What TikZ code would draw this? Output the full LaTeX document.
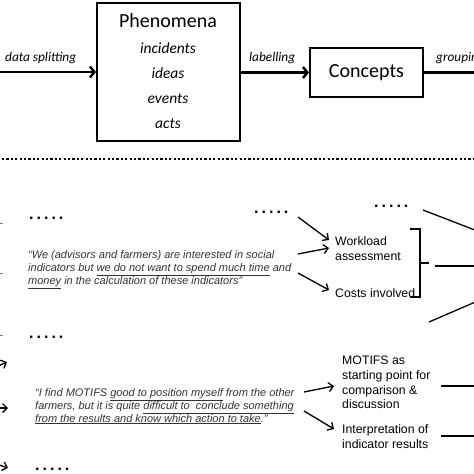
\documentclass[tikz,border=0pt]{standalone}
\usepackage{fontspec}
\setmainfont{Liberation Sans}
\newfontfamily\calfont{Carlito}
\usetikzlibrary{arrows.meta}
\newcommand{\fivedots}{.\kern3pt.\kern3pt.\kern3pt.\kern3pt.}
\tikzset{
  bigbox/.style={draw, line width=2pt, inner sep=0pt},
  bigarr/.style={line width=2.4pt, -{Straight Barb[length=4.5pt,width=11pt]}},
  smallarr/.style={line width=1.3pt, -{Straight Barb[length=4.5pt,width=9pt]}},
  plain/.style={line width=1.3pt},
  titletxt/.style={font=\calfont\fontsize{20}{24}\selectfont, inner sep=0pt},
  itemtxt/.style={font=\calfont\itshape\fontsize{15.5}{18}\selectfont, inner sep=0pt},
  lbltxt/.style={font=\calfont\itshape\fontsize{13.3}{16}\selectfont, inner sep=0pt, anchor=west},
  quotetxt/.style={font=\itshape\fontsize{11}{13}\selectfont, text=black!80, inner sep=0pt, align=left, anchor=north west},
  cattxt/.style={font=\fontsize{12.3}{15}\selectfont, inner sep=0pt, align=left, anchor=north west},
  dotstxt/.style={font=\bfseries\fontsize{16}{18}\selectfont, inner sep=0pt, anchor=base west},
}
\begin{document}
\begin{tikzpicture}[x=1pt,y=-1pt]
\useasboundingbox (0,0) rectangle (474,474);
\clip (0,0) rectangle (474,474);
\fill[white] (0,0) rectangle (474,474);
% ---------- top row ----------
\node[bigbox, minimum width=143pt, minimum height=138pt] (phen) at (168.5,72) {};
\node[titletxt] (phent) at (168,21) {Phenomena};
\node[itemtxt] (inc) at (168,48) {incidents};
\node[itemtxt] (ide) at (168,73) {ideas};
\node[itemtxt] (eve) at (168,99) {events};
\node[itemtxt] (act) at (168,124) {acts};
\node[bigbox, minimum width=113pt, minimum height=49pt, font=\calfont\fontsize{20}{24}\selectfont] (conc) at (366.5,72.5) {Concepts};
\coordinate (ds) at (-10,72);
\coordinate (grp) at (490,72.5);
\draw[bigarr] (ds) -- (phen.west);
\draw[bigarr] (phen.east |- conc.west) -- (conc.west);
\draw[bigarr] (conc.east) -- (grp);
\node[lbltxt] (l1) at (5,58) {data splitting};
\node[lbltxt] (l2) at (249,58) {labelling};
\node[lbltxt] (l3) at (436,58) {grouping};
% dotted separator
\coordinate (s1) at (2,159);
\coordinate (s2) at (474,159);
\draw[line width=2.2pt, dash pattern=on 2.2pt off 2.2pt] (s1) -- (s2);
% ---------- first block ----------
\node[dotstxt] (d1) at (29,219) {\fivedots};
\node[dotstxt] (d2) at (254,213) {\fivedots};
\node[dotstxt] (d3) at (374,207) {\fivedots};
\node[quotetxt] (q1) at (28,250) {``We (advisors and farmers) are interested in social\\
indicators but \underline{we do not want to spend much time} and\\
\underline{money} in the calculation of these indicators''};
\node[cattxt] (work) at (335,236) {Workload\\assessment};
\node[cattxt, anchor=west] (cost) at (335,293) {Costs involved};
\coordinate (a1s) at (298,217);
\coordinate (a2s) at (298,254);
\coordinate (a3s) at (298,273);
\draw[smallarr] (a1s) -- (329,240) coordinate (a1e);
\draw[smallarr] (a2s) -- (329,248) coordinate (a2e);
\draw[smallarr] (a3s) -- (329,290) coordinate (a3e);
% bracket
\coordinate (bt) at (410,229);
\coordinate (bb) at (410,297);
\draw[plain] (bt) -- (420,229) -- (420,297) -- (bb);
\coordinate (bm) at (420,263);
\draw[plain] (bm) -- (429,263);
\coordinate (h1) at (435,266);
\draw[plain] (h1) -- (480,266);
\coordinate (f1) at (423,210);
\draw[plain] (f1) -- (480,232);
\coordinate (f2) at (429,322);
\draw[plain] (f2) -- (480,300);
% ---------- second block ----------
\node[dotstxt] (d4) at (29,338) {\fivedots};
\node[dotstxt] (d5) at (35,470) {\fivedots};
\node[quotetxt] (q2) at (35,388) {``I find MOTIFS \underline{good to position myself} from the other\\
farmers, but it is quite \underline{difficult to\ \ conclude something}\\
\underline{from the results and know which action to take}.''};
\node[cattxt, font=\fontsize{12.3}{14.7}\selectfont] (mot) at (342,356) {MOTIFS as\\starting point for\\comparison \&\\discussion};
\node[cattxt] (interp) at (342,424) {Interpretation of\\indicator results};
\coordinate (b1s) at (304,392);
\coordinate (b2s) at (304,411);
\draw[smallarr] (b1s) -- (334,386) coordinate (b1e);
\draw[smallarr] (b2s) -- (334,429) coordinate (b2e);
\coordinate (h2) at (441,386);
\draw[plain] (h2) -- (480,386);
\coordinate (h3) at (441,436);
\draw[plain] (h3) -- (480,436);
% left edge fragments
\coordinate (t1) at (-10,223);
\draw[line width=0.8pt, black!50] (t1) -- (3,223);
\coordinate (t2) at (-10,273);
\draw[line width=0.8pt, black!50] (t2) -- (3,273);
\coordinate (t3) at (-10,335);
\draw[line width=0.8pt, black!50] (t3) -- (3,335);
\coordinate (e1) at (-15,372);
\draw[smallarr] (e1) -- (7,362);
\coordinate (e2) at (-15,408);
\draw[smallarr] (e2) -- (8,408);
\coordinate (e3) at (-15,460);
\draw[smallarr] (e3) -- (8,468);
\end{tikzpicture}
\end{document}
